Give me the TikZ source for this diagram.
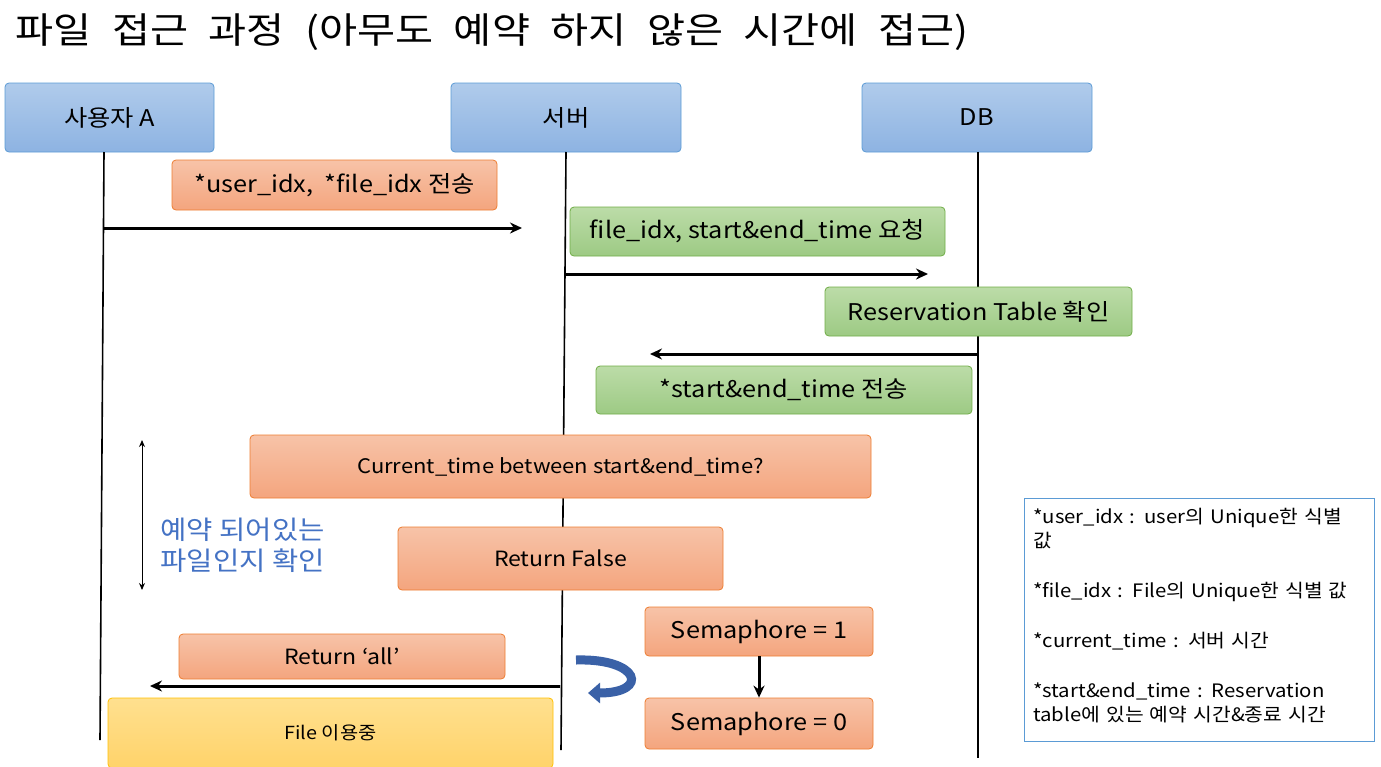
\documentclass[tikz,border=0pt]{standalone}
\usepackage{fontspec}
\setmainfont[FakeStretch=1.1]{Noto Sans CJK KR}
\newfontfamily\titlefont[FakeStretch=1.15, WordSpace=2.2]{Noto Sans CJK KR}
\usetikzlibrary{arrows.meta}
\definecolor{obord}{HTML}{ED7D31}
\definecolor{gbord}{HTML}{70AD47}
\definecolor{bbord}{HTML}{5B9BD5}
\definecolor{ybord}{HTML}{FFC000}
\definecolor{btext}{HTML}{4472C4}
\definecolor{htop}{HTML}{B0CBEB}
\definecolor{hbot}{HTML}{8DB3E2}
\definecolor{otop}{HTML}{F7C3A8}
\definecolor{obot}{HTML}{F4A57E}
\definecolor{gtop}{HTML}{BCDCA8}
\definecolor{gbot}{HTML}{9DCA84}
\definecolor{ytop}{HTML}{FFE08F}
\definecolor{ybot}{HTML}{FFD36A}
\tikzset{
 box/.style={rounded corners=4pt, line width=0.8pt, inner sep=0pt, align=center, font=\fontsize{23}{27}\selectfont},
 hdr/.style={box, draw=bbord, top color=htop, bottom color=hbot},
 obox/.style={box, draw=obord, top color=otop, bottom color=obot},
 gbox/.style={box, draw=gbord, top color=gtop, bottom color=gbot},
 ybox/.style={box, draw=ybord, top color=ytop, bottom color=ybot},
 life/.style={line width=1.6pt},
 msg/.style={line width=3pt, -{Stealth[length=12pt,width=11pt]}},
}
\begin{document}
\begin{tikzpicture}[x=1pt,y=-1pt]
\useasboundingbox (0,0) rectangle (1381,766);
\node[anchor=west, font=\titlefont\fontsize{36}{40}\selectfont] (title) at (12,32) {파일 접근 과정 (아무도 예약 하지 않은 시간에 접근)};
\node[hdr, minimum width=209pt, minimum height=69pt] (ua) at (109.5,117.5) {사용자 A};
\node[hdr, minimum width=230pt, minimum height=69pt] (sv) at (566,117.5) {서버};
\node[hdr, minimum width=230pt, minimum height=69pt] (db) at (977,117.5) {DB};
\coordinate (ua1) at (104,152); \coordinate (ua2) at (100,740);
\coordinate (sv1) at (566,152); \coordinate (sv2) at (561,750);
\coordinate (db1) at (978,152); \coordinate (db2) at (978,758);
\draw[life] (ua1) -- (ua2);
\draw[life] (sv1) -- (sv2);
\draw[life] (db1) -- (db2);
\node[obox, minimum width=325pt, minimum height=50pt] (m1) at (334.5,185) {*user\_idx,\ \ *file\_idx 전송};
\coordinate (a1s) at (104,228); \coordinate (a1e) at (522,228);
\draw[msg] (a1s) -- (a1e);
\node[gbox, minimum width=375pt, minimum height=49pt] (m2) at (757.5,231.5) {file\_idx, start\&end\_time 요청};
\coordinate (a2s) at (566,274); \coordinate (a2e) at (928,274);
\draw[msg] (a2s) -- (a2e);
\node[gbox, minimum width=307pt, minimum height=49pt] (m3) at (978.5,311.5) {Reservation Table 확인};
\coordinate (a3s) at (978,354); \coordinate (a3e) at (650,354);
\draw[msg] (a3s) -- (a3e);
\node[gbox, minimum width=376pt, minimum height=48pt] (m4) at (784,390) {*start\&end\_time 전송};
\node[obox, minimum width=621pt, minimum height=63pt, font=\fontsize{20}{24}\selectfont] (q) at (560.5,466.5) {Current\_time between start\&end\_time?};
\coordinate (d1) at (142,440); \coordinate (d2) at (142,590);
\draw[line width=1pt, {Stealth[length=7pt,width=6pt]}-{Stealth[length=7pt,width=6pt]}] (d1) -- (d2);
\node[anchor=west, align=left, text=btext, font=\fontsize{26}{31}\selectfont] (chk) at (157,545) {예약 되어있는\\파일인지 확인};
\node[obox, minimum width=325pt, minimum height=63pt, font=\fontsize{21}{24}\selectfont] (rf) at (560.5,558.5) {Return False};
\node[obox, minimum width=228pt, minimum height=49pt] (s1) at (759,631.5) {Semaphore\ =\ 1};
\node[obox, minimum width=228pt, minimum height=51pt] (s0) at (759,723.5) {Semaphore\ =\ 0};
\draw[line width=3pt, -{Stealth[length=12pt,width=11pt]}] (s1) -- (s0);
\node[obox, minimum width=326pt, minimum height=45pt, font=\fontsize{21}{24}\selectfont] (ra) at (342,656.5) {Return ‘all’};
\coordinate (a4s) at (560,686); \coordinate (a4e) at (150,686);
\draw[msg] (a4s) -- (a4e);
\node[ybox, minimum width=445pt, minimum height=70pt, font=\fontsize{18}{22}\selectfont] (fu) at (330.5,733) {File 이용중};
\coordinate (c1) at (576,660); \coordinate (c2) at (588,693);
\draw[line width=9pt, draw=btext!85!black, -{Triangle[length=12pt,width=20pt]}] (c1) .. controls (640,658) and (650,693) .. (c2);
\node[draw=bbord, line width=1pt, anchor=north west, minimum width=350pt, minimum height=243pt, inner sep=0pt] (lg) at (1024,498) {};
\node[anchor=north west, align=left, text width=340pt, inner sep=0pt, font=\fontsize{18.5}{24}\selectfont] (lgt) at (1033,508) {*user\_idx : user의 Unique한 식별\\값\\[26pt]*file\_idx : File의 Unique한 식별 값\\[26pt]*current\_time : 서버 시간\\[26pt]*start\&end\_time : Reservation\\table에 있는 예약 시간\&종료 시간};
\end{tikzpicture}
\end{document}
